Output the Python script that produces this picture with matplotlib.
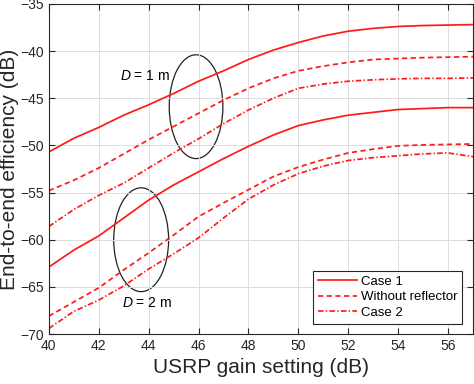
import matplotlib
matplotlib.use('Agg')
import matplotlib.pyplot as plt
from matplotlib.patches import Ellipse
import numpy as np

plt.rcParams['font.family'] = ['Liberation Sans', 'DejaVu Sans']
plt.rcParams['mathtext.fontset'] = 'custom'
plt.rcParams['mathtext.it'] = 'Liberation Sans:italic'
plt.rcParams['mathtext.rm'] = 'Liberation Sans'

gain = np.arange(40, 58)

# D = 1 m
case1_d1 = [-50.7, -49.25, -48.1, -46.8, -45.7, -44.5, -43.2, -42.1, -40.9,
            -39.9, -39.1, -38.4, -37.9, -37.6, -37.4, -37.3, -37.25, -37.2]
norefl_d1 = [-54.8, -53.7, -52.4, -50.9, -49.4, -48.0, -46.6, -45.2, -43.95,
             -42.9, -42.1, -41.6, -41.2, -40.9, -40.8, -40.7, -40.65, -40.6]
case2_d1 = [-58.6, -56.8, -55.3, -54.0, -52.4, -50.8, -49.3, -47.7, -46.25,
            -45.0, -43.95, -43.5, -43.2, -43.05, -42.95, -42.9, -42.9, -42.85]

# D = 2 m
case1_d2 = [-62.9, -61.1, -59.6, -57.7, -55.8, -54.2, -52.8, -51.4, -50.1,
            -48.9, -47.9, -47.3, -46.8, -46.5, -46.2, -46.1, -46.0, -46.0]
norefl_d2 = [-68.1, -66.6, -65.1, -63.2, -61.4, -59.5, -57.55, -56.1, -54.7,
             -53.3, -52.3, -51.5, -50.8, -50.4, -50.05, -49.95, -49.9, -49.85]
case2_d2 = [-69.4, -67.6, -66.4, -64.9, -63.1, -61.5, -59.8, -57.7, -55.7,
            -54.2, -53.0, -52.2, -51.6, -51.3, -51.1, -50.9, -50.8, -51.2]

red = '#ff1a1a'
dash = (3, 2)
dashdot = (3.2, 1.3, 0.8, 1.3)

fig = plt.figure(figsize=(4.74, 3.84), dpi=100)
ax = fig.add_axes([0.103, 0.130, 0.895, 0.860])

ax.plot(gain, case1_d1, '-', color=red, lw=1.25, label='Case 1')
ax.plot(gain, norefl_d1, color=red, lw=1.25, dashes=dash, label='Without reflector')
ax.plot(gain, case2_d1, color=red, lw=1.25, dashes=dashdot, label='Case 2')
ax.plot(gain, case1_d2, '-', color=red, lw=1.25)
ax.plot(gain, norefl_d2, color=red, lw=1.25, dashes=dash)
ax.plot(gain, case2_d2, color=red, lw=1.25, dashes=dashdot)

ax.add_patch(Ellipse((45.9, -45.9), 2.15, 11, fill=False, ec='#222222', lw=0.9))
ax.add_patch(Ellipse((43.7, -60.0), 2.2, 11, fill=False, ec='#222222', lw=0.9))
ax.text(44.85, -42.7, '$D$ = 1 m', ha='right', va='center', fontsize=10)
ax.text(43.95, -66.7, '$D$ = 2 m', ha='center', va='center', fontsize=10)

ax.set_xlim(40, 57)
ax.set_ylim(-70, -35)
ax.set_xticks(np.arange(40, 57, 2))
ax.set_yticks(np.arange(-70, -34, 5))
ax.grid(True, color='#dddddd', lw=0.7)
ax.tick_params(direction='in', top=True, right=True, labelsize=10,
               colors='#262626', length=4)
for s in ax.spines.values():
    s.set_color('#262626')
    s.set_linewidth(0.8)

ax.set_xlabel('USRP gain setting (dB)', fontsize=15, color='#262626', labelpad=4)
ax.set_ylabel('End-to-end efficiency (dB)', fontsize=15, color='#262626', labelpad=1)

leg = ax.legend(loc='lower right', fontsize=9.5, fancybox=False, framealpha=1,
                edgecolor='#262626', handlelength=3.0, handletextpad=0.3,
                borderaxespad=0.8, labelspacing=0.25, borderpad=0.35)
leg.get_frame().set_linewidth(0.8)

fig.savefig('out.png', dpi=100)
